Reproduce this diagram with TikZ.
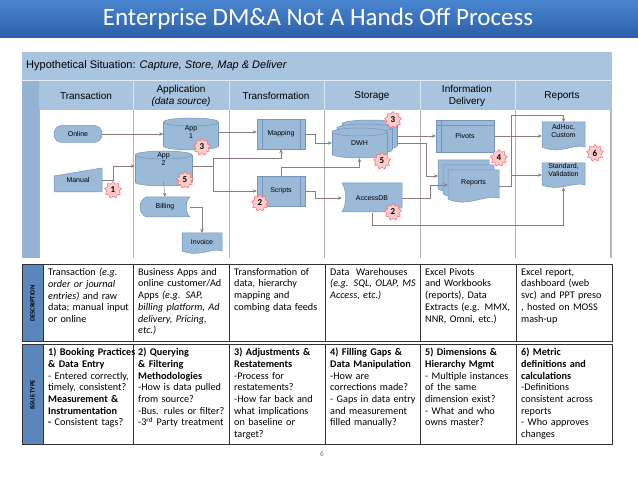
\documentclass[tikz,border=0pt]{standalone}
\usepackage{fontspec}
\setmainfont{Carlito}
\newfontfamily\arial{Liberation Sans}
\usetikzlibrary{shapes.geometric,backgrounds,calc,arrows.meta}
\AtBeginDocument{\hyphenpenalty=10000 \exhyphenpenalty=10000 }
\definecolor{panel}{HTML}{A8C4DE}
\definecolor{strip}{HTML}{94B3D3}
\definecolor{shpf}{HTML}{9BBAD8}
\definecolor{shpd}{HTML}{7595BA}
\definecolor{conc}{HTML}{8C7C7C}
\definecolor{tbl}{HTML}{5B86BD}
\definecolor{titA}{HTML}{4A86CF}
\definecolor{titB}{HTML}{2A5EA8}
\tikzset{
 lbl/.style={font=\arial\fontsize{7}{8}\selectfont, align=center, inner sep=0pt},
 hdr/.style={font=\arial\fontsize{10}{11.5}\selectfont, align=center},
 shp/.style={fill=shpf, draw=shpd, line width=0.5pt},
 conn/.style={draw=conc, line width=0.5pt, -{Stealth[length=4pt,width=3.5pt]}},
 badge/.style={star, star points=9, star point ratio=1.35, minimum size=17pt, inner sep=0pt, fill=red!20, draw=red!60, line width=0.5pt, font=\bfseries\fontsize{9}{9}\selectfont},
 cell/.style={anchor=north west, text width=88pt, align=left, inner sep=0pt, font=\fontsize{10.2}{11.7}\selectfont},
 tline/.style={draw=black!80, line width=1pt},
}
\begin{document}
\begin{tikzpicture}[x=1pt,y=-1pt]
\useasboundingbox (0,0) rectangle (638,478);
% title
\shade[top color=titA, bottom color=titB] (0,0) rectangle (638,38);
\node[text=white, font=\fontsize{25}{27}\selectfont] (title) at (318,19) {Enterprise DM\&A Not A Hands Off Process};
% panel
\fill[panel] (22,52) rectangle (612,258);
\fill[strip] (22,80) rectangle (39,258);
\fill[white] (39,110) rectangle (610,258);
\draw[white!70!panel, line width=0.8pt] (22,80) -- (612,80);
\foreach \x in {133,229,324,420,515}{\draw[white!60!panel, line width=0.6pt] (\x,80) -- (\x,110);}
\foreach \x in {133,229,324,420,515}{\draw[black!30, line width=0.4pt] (\x,110) -- (\x,258);}
\draw[black!30, line width=0.4pt] (39,110) -- (39,258) (610,110) -- (610,258);
\node[anchor=west, font=\arial\fontsize{11}{12}\selectfont, inner sep=0pt] (hyp) at (26,66) {Hypothetical Situation: \textit{Capture, Store, Map \& Deliver}};
\node[hdr] (h1) at (86,96) {Transaction};
\node[hdr] (h2) at (181,96) {Application\\\textit{(data source)}};
\node[hdr] (h3) at (276,96) {Transformation};
\node[hdr] (h4) at (372,96) {Storage};
\node[hdr] (h5) at (467,96) {Information\\Delivery};
\node[hdr] (h6) at (562,96) {Reports};

% Online
\node[lbl, shp, rounded corners=8pt, minimum width=48pt, minimum height=17pt] (online) at (78,134) {Online};
% Manual
\filldraw[shp] (54,192) -- (54,176) -- (102,168) -- (102,192) -- cycle;
\node[lbl, minimum width=48pt, minimum height=24pt] (manual) at (78,180) {\raisebox{-4pt}{Manual}};
% App1 cylinder
\filldraw[shp] (191,146) ellipse (27.5 and 4);
\fill[shpf] (163.5,122) rectangle (218.5,146);
\draw[shpd, line width=0.5pt] (163.5,122) -- (163.5,146) (218.5,122) -- (218.5,146);
\filldraw[shp] (191,122) ellipse (27.5 and 4);
\node[lbl, minimum width=55pt, minimum height=28pt] (app1) at (191,132) {App\\1};
% App2
\filldraw[shp] (163.5,182) ellipse (28.5 and 4);
\fill[shpf] (135,155) rectangle (192,182);
\draw[shpd, line width=0.5pt] (135,155) -- (135,182) (192,155) -- (192,182);
\filldraw[shp] (163.5,155) ellipse (28.5 and 4);
\node[lbl, minimum width=57pt, minimum height=31pt] (app2) at (163.5,166) {App\\2\\[6pt]};
% Billing
\filldraw[shp] (146,197) -- (190,197) .. controls (185,201) and (185,213) .. (190,217) -- (146,217) .. controls (138,213) and (138,201) .. (146,197) -- cycle;
\node[lbl, minimum width=50pt, minimum height=20pt] (billing) at (165,207) {Billing};
% Invoice
\filldraw[shp] (182,233) -- (222,233) -- (222,251) .. controls (212,247) and (200,258) .. (182,251) -- cycle;
\node[lbl, minimum width=40pt, minimum height=20pt] (invoice) at (202,243) {\raisebox{2pt}{Invoice}};
% Mapping & Scripts
\filldraw[shp] (257,119) rectangle (305,149);
\draw[shpd, line width=0.5pt] (262,119) -- (262,149) (300,119) -- (300,149);
\node[lbl, minimum width=48pt, minimum height=30pt] (mapping) at (281,134) {Mapping};
\filldraw[shp] (257,176) rectangle (305,206);
\draw[shpd, line width=0.5pt] (262,176) -- (262,206) (300,176) -- (300,206);
\node[lbl, minimum width=48pt, minimum height=30pt] (scripts) at (281,191) {Scripts};
% DWH multi cylinders
\foreach \dx/\dy in {10/-8,5/-4,0/0}{
 \begin{scope}[shift={(\dx,\dy)}]
 \filldraw[shp] (359.5,154) ellipse (27.5 and 4);
 \fill[shpf] (332,132) rectangle (387,154);
 \draw[shpd, line width=0.5pt] (332,132) -- (332,154) (387,132) -- (387,154);
 \filldraw[shp] (359.5,132) ellipse (27.5 and 4);
 \end{scope}}
\node[lbl, minimum width=55pt, minimum height=30pt] (dwh) at (359.5,143) {DWH};
% AccessDB
\filldraw[shp] (342,183) -- (402,183) -- (402,208) .. controls (396,206) and (392,214) .. (386,212) -- (342,212) .. controls (347,204) and (347,191) .. (342,183) -- cycle;
\node[lbl, minimum width=60pt, minimum height=29pt] (accessdb) at (372,198) {AccessDB};
% Pivots
\filldraw[shp] (436,120) rectangle (494,152);
\draw[shpd, line width=0.5pt] (436,125) -- (494,125) (441,120) -- (441,152);
\node[lbl, minimum width=58pt, minimum height=32pt] (pivots) at (465,136) {Pivots};
% Reports multi doc
\foreach \ox/\oy in {438/160,443/165,448/170}{
 \filldraw[shp] (\ox,\oy) -- ({\ox+51},\oy) -- ({\ox+51},{\oy+28}) .. controls ({\ox+38},{\oy+24}) and ({\ox+18},{\oy+38}) .. (\ox,{\oy+29}) -- cycle;}
\node[lbl, minimum width=51pt, minimum height=32pt] (reports) at (473.5,186) {\raisebox{8pt}{Reports}};
\coordinate (rb) at (438,176);
\coordinate (rf) at (448,185);
% AdHoc & Standard
\filldraw[shp] (542,122) -- (585,122) -- (585,147) .. controls (575,143) and (560,155) .. (542,147) -- cycle;
\node[lbl, minimum width=43pt, minimum height=27pt] (adhoc) at (563.5,136) {AdHoc,\\Custom\\[3pt]};
\filldraw[shp] (542,163) -- (585,163) -- (585,185) .. controls (575,181) and (560,192) .. (542,185) -- cycle;
\node[lbl, minimum width=43pt, minimum height=24pt] (standard) at (563.5,175) {Standard,\\Validation\\[3pt]};

% connectors
\draw[conn] (online.east) -- (online.east -| app1.west);
\draw[conn] (manual.east) -- ++(11,0) |- (app2.west);
\draw[conn] (app2.south) -- (billing.north);
\draw[conn] (billing.east) -| (invoice.north);
\draw[conn] (app1.east) -- (app1.east -| mapping.west);
\draw[conn] (app2.east) -- ++(21,0) coordinate (j1) |- (scripts.west);
\draw[conn] (j1) -- ++(0,-8) -| (mapping.south);
\draw[conn] (scripts.north) -- ++(0,-9) -| (dwh.south);
\draw[conn] (mapping.east) -- ++(10,0) |- (dwh.west);
\draw[conn] (scripts.east) -- ++(10,0) |- (accessdb.west);
\draw[conn] ($(dwh.east)+(10,-7)$) -- (pivots.west);
\draw[conn] ($(dwh.east)+(10,0)$) -- ++(29,0) |- (rb);
\draw[conn] (accessdb.east) -- ++(28,0) |- (rf);
\draw[conn] (pivots.east) -- (adhoc.west);
\draw[conn] (reports.east) -- ++(12,0) coordinate (j2) |- ($(adhoc.north)+(0,-7)$) -- (adhoc.north);
\draw[conn] (j2 |- standard.west) -- (standard.west);
\draw[conn] (accessdb.south) -- ++(0,13) -| (standard.south);

% badges
\node[badge] (b1) at (113,190) {1};
\node[badge] (b3a) at (202,147) {3};
\node[badge] (b5a) at (185,180) {5};
\node[badge] (b2a) at (260,203) {2};
\node[badge] (b3b) at (393,120) {3};
\node[badge] (b5b) at (382,161) {5};
\node[badge] (b2b) at (393,212) {2};
\node[badge] (b4) at (499,158) {4};
\node[badge] (b6) at (595,153) {6};

% tables
\foreach \ya/\yb/\lab in {265/342/DESCRIPTION,345/445/ISSUE TYPE}{
 \fill[tbl] (22,\ya) rectangle (43,\yb);
 \node[rotate=90, font=\bfseries\fontsize{6.5}{7}\selectfont] at (32.5,{(\ya+\yb)/2}) {\lab};
 \draw[tline] (22,\ya) rectangle (612,\yb);
 \foreach \x in {43,133,229,325,420,516}{\draw[tline] (\x,\ya) -- (\x,\yb);}
}
\node[cell] (d1) at (48,268) {Transaction \textit{(e.g. order or journal entries)} and raw data; manual input or online};
\node[cell] (d2) at (138,268) {Business Apps and online customer/Ad Apps \textit{(e.g. SAP, billing platform, Ad delivery, Pricing, etc.)}};
\node[cell] (d3) at (234,268) {Transformation of data, hierarchy mapping and combing data feeds};
\node[cell] (d4) at (330,268) {Data~ Warehouses \textit{(e.g. SQL, OLAP, MS Access, etc.)}};
\node[cell] (d5) at (425,268) {Excel Pivots and Workbooks (reports), Data Extracts (e.g. MMX, NNR, Omni, etc.)};
\node[cell] (d6) at (521,268) {Excel report, dashboard (web svc) and PPT preso , hosted on MOSS mash-up};
\node[cell] (i1) at (48,348) {\textbf{1) Booking Practices \& Data Entry}\\- Entered correctly, timely, consistent?\\\textbf{Measurement \& Instrumentation}\\\textbf{-} Consistent tags?};
\node[cell] (i2) at (138,348) {\textbf{2) Querying \& Filtering Methodologies}\\-How is data pulled from source?\\-Bus. rules or filter?\\-3\textsuperscript{rd} Party treatment};
\node[cell] (i3) at (234,348) {\textbf{3) Adjustments \& Restatements}\\-Process for restatements?\\-How far back and what implications on baseline or target?};
\node[cell] (i4) at (330,348) {\textbf{4) Filling Gaps \& Data Manipulation}\\-How are corrections made?\\- Gaps in data entry and measurement filled manually?};
\node[cell] (i5) at (425,348) {\textbf{5) Dimensions \& Hierarchy Mgmt}\\- Multiple instances of the same dimension exist?\\- What and who owns master?};
\node[cell] (i6) at (521,348) {\textbf{6) Metric definitions and calculations}\\-Definitions consistent across reports\\- Who approves changes};
\node[text=black!50, font=\fontsize{8}{9}\selectfont] (pg) at (322,454) {6};
\end{tikzpicture}
\end{document}
